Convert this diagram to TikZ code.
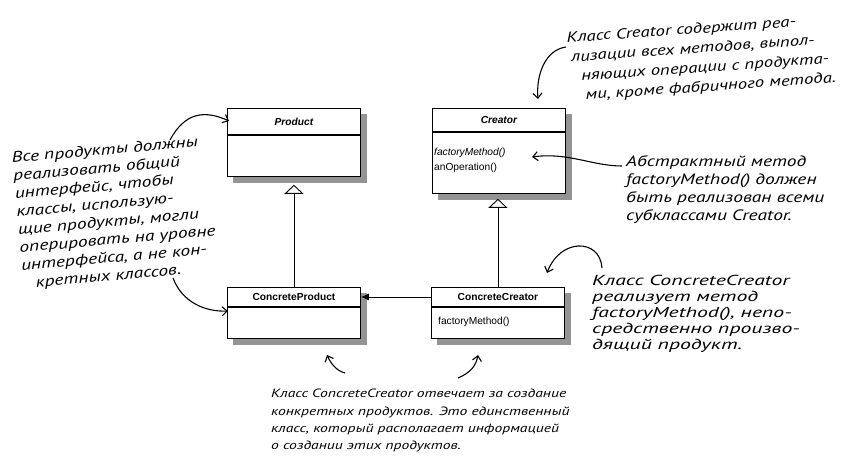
\documentclass[tikz,border=0pt]{standalone}
\usepackage{fontspec}
\setmainfont{Liberation Sans}
\newfontfamily\uml{Liberation Sans}
\newfontfamily\hand{PT Sans}[FakeStretch=1.3]
\newfontfamily\handw{PT Sans}[FakeStretch=1.5]
\usetikzlibrary{arrows.meta,calc,backgrounds}
\begin{document}
\begin{tikzpicture}[x=1pt,y=-1pt,
  cls/.style={draw, line width=0.9pt, fill=white, minimum width=133pt, inner sep=0pt, font=\uml\fontsize{10.2}{12}\selectfont},
  item/.style={inner sep=0pt, anchor=west, font=\uml\fontsize{10.2}{12}\selectfont},
  note/.style={font=\hand\itshape\fontsize{15}{18}\selectfont, align=left, inner sep=0pt, anchor=north west},
  ann/.style={-{Straight Barb[length=5pt,width=9pt]}, line width=1.1pt},
  inherit/.style={-{Triangle[open,length=9pt,width=19pt]}, line width=0.9pt},
  assoc/.style={-{Latex[length=8pt,width=7pt]}, line width=0.9pt},
  shadowbox/.style={fill=black!42}]
\useasboundingbox (0,0) rectangle (844,466);
% classes
\node[cls, minimum height=26pt, anchor=north west] (pH) at (227,108) {\bfseries\itshape Product};
\node[cls, minimum height=41pt, anchor=north] (pB) at (pH.south) {};
\node[cls, minimum height=23pt, anchor=north west] (cH) at (432,108) {\bfseries\itshape Creator};
\node[cls, minimum height=61pt, anchor=north] (cB) at (cH.south) {};
\node[item] (cM1) at ($(cB.north west)+(2,21)$) {\itshape factoryMethod()};
\node[item] (cM2) at ($(cB.north west)+(2,36)$) {anOperation()};
\node[cls, minimum height=19pt, anchor=north west] (cpH) at (227,287) {\bfseries ConcreteProduct};
\node[cls, minimum height=31pt, anchor=north] (cpB) at (cpH.south) {};
\node[cls, minimum height=19pt, anchor=north west] (ccH) at (431,287) {\bfseries ConcreteCreator};
\node[cls, minimum height=31pt, anchor=north] (ccB) at (ccH.south) {};
\node[item] (ccM1) at ($(ccB.north west)+(7,15)$) {factoryMethod()};
\begin{pgfonlayer}{background}
\fill[shadowbox] ($(pH.north west)+(6,6)$) rectangle ($(pB.south east)+(6,6)$);
\fill[shadowbox] ($(cH.north west)+(6,6)$) rectangle ($(cB.south east)+(6,6)$);
\fill[shadowbox] ($(cpH.north west)+(6,6)$) rectangle ($(cpB.south east)+(6,6)$);
\fill[shadowbox] ($(ccH.north west)+(6,6)$) rectangle ($(ccB.south east)+(6,6)$);
\end{pgfonlayer}
% relations
\draw[inherit, shorten >=8pt] (cpH.north) -- (pB.south);
\draw[inherit, shorten >=5pt] (ccH.north) -- (ccH.north |- cB.south);
\draw[assoc] (ccH.west) -- (cpH.east);
% notes
\node[note, rotate=5] (nL) at (11,152) {Все продукты должны\\реализовать общий\\интерфейс, чтобы\\классы, использую-\\щие продукты, могли\\оперировать на уровне\\интерфейса, а не кон-\\\hspace*{13pt}кретных классов.};
\node[note, rotate=4, font=\hand\itshape\fontsize{14.5}{19.5}\selectfont] (nTR) at (566,32) {Класс Creator содержит реа-\\\hspace*{3pt}лизации всех методов, выпол-\\\hspace*{12pt}няющих операции с продукта-\\\hspace*{15pt}ми, кроме фабричного метода.};
\node[note] (nRM) at (626,155) {Абстрактный метод\\factoryMethod() должен\\быть реализован всеми\\субклассами Creator.};
\node[note, font=\handw\itshape\fontsize{14.5}{16}\selectfont] (nRL) at (592,275) {Класс ConcreteCreator\\реализует метод\\factoryMethod(), непо-\\средственно произво-\\дящий продукт.};
\node[note, font=\hand\itshape\fontsize{12}{17.3}\selectfont] (nB) at (271,389) {Класс ConcreteCreator отвечает за создание\\конкретных продуктов. Это единственный\\класс, который располагает информацией\\о создании этих продуктов.};
% annotation arrows
\coordinate (a1s) at (170,140); \coordinate (a1t) at (229,121);
\coordinate (a2s) at (173,278); \coordinate (a2t) at (228,311);
\coordinate (a3s) at (566,47);  \coordinate (a3t) at (538,99);
\coordinate (a4s) at (622,166); \coordinate (a4t) at (532,157);
\coordinate (a5s) at (602,268); \coordinate (a5t) at (547,273);
\coordinate (a6s) at (345,373); \coordinate (a6t) at (327,355);
\coordinate (a7s) at (458,378); \coordinate (a7t) at (478,355);
\draw[ann] (a1s) .. controls (185,112) and (205,110) .. (a1t);
\draw[ann] (a2s) .. controls (182,302) and (205,312) .. (a2t);
\draw[ann] (a3s) .. controls (545,50) and (536,75) .. (a3t);
\draw[ann] (a4s) .. controls (592,166) and (568,152) .. (a4t);
\draw[ann] (a5s) .. controls (600,238) and (560,238) .. (a5t);
\draw[ann] (a6s) .. controls (337,371) and (331,364) .. (a6t);
\draw[ann] (a7s) .. controls (470,373) and (476,366) .. (a7t);
\end{tikzpicture}
\end{document}
